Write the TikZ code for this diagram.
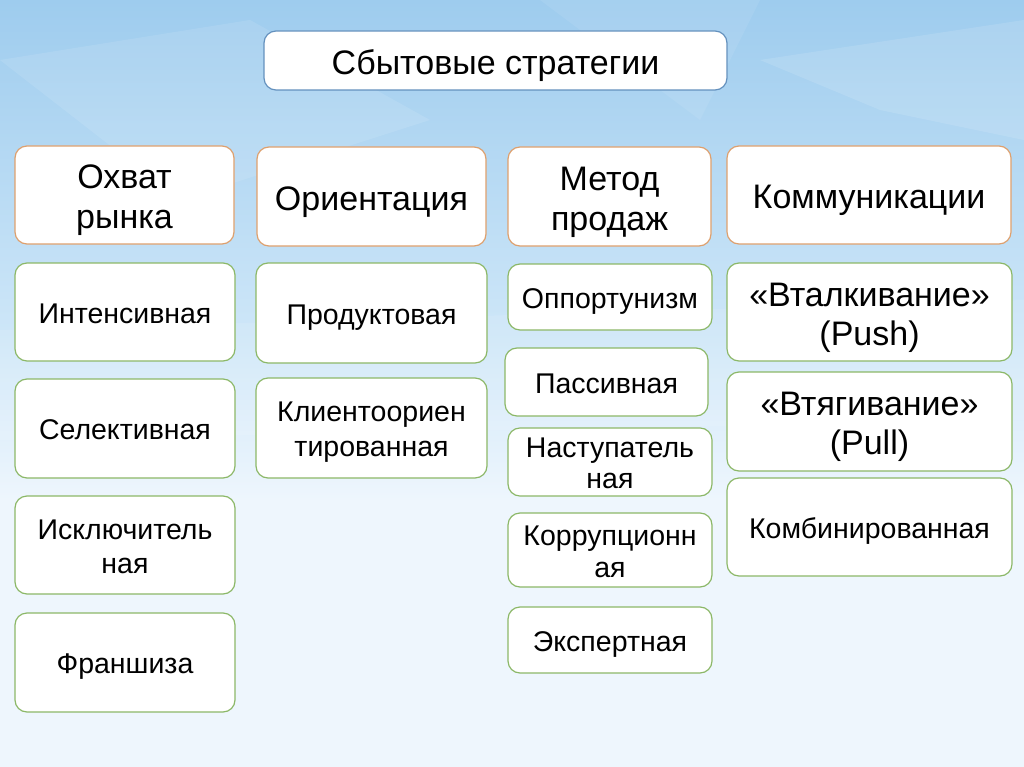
\documentclass[tikz,border=0pt]{standalone}
\usepackage{fontspec}
\setmainfont{Liberation Sans}
\definecolor{bgtop}{RGB}{158,204,238}
\definecolor{bgmid}{RGB}{205,230,248}
\definecolor{bgbot}{RGB}{238,246,253}
\definecolor{titleline}{RGB}{100,145,190}
\definecolor{headline}{RGB}{222,160,110}
\definecolor{itemline}{RGB}{140,184,104}
% struts: single line, first line, last line
\newcommand\sgl[1]{\rule[-0.25em]{0pt}{1.3em}#1}
\newcommand\dbl[2]{\rule{0pt}{1.05em}#1\\#2\rule[-0.25em]{0pt}{0.25em}}
\tikzset{
  box/.style={rectangle, rounded corners=12pt, fill=white, line width=1.2pt, align=center, inner sep=0pt, text=black},
  titlebox/.style={box, draw=titleline, font=\fontsize{34}{40}\selectfont},
  headbox/.style={box, draw=headline, font=\fontsize{34}{40}\selectfont},
  itembox/.style={box, draw=itemline, font=\fontsize{28.5}{34}\selectfont},
  bigitem/.style={box, draw=itemline, font=\fontsize{34}{39}\selectfont},
  sz/.style 2 args={minimum width=#1pt, minimum height=#2pt}
}
\begin{document}
\begin{tikzpicture}[x=1pt,y=-1pt]
\useasboundingbox (0,0) rectangle (1024,767);
% background
\shade[top color=bgtop, bottom color=bgmid] (0,0) rectangle (1024,330);
\shade[top color=bgmid, bottom color=bgbot] (0,330) rectangle (1024,500);
\fill[bgbot] (0,500) rectangle (1024,767);
\fill[white, opacity=0.10] (0,60) -- (250,20) -- (430,120) -- (180,200) -- cycle;
\fill[white, opacity=0.12] (760,60) -- (1024,20) -- (1024,140) -- (880,110) -- cycle;
\fill[white, opacity=0.08] (540,0) -- (760,0) -- (700,120) -- cycle;
\fill[white, opacity=0.10] (0,330) -- (1024,300) -- (1024,420) -- (0,440) -- cycle;
% title
\node[titlebox, sz={463}{59}] (title) at (495.5,60.5) {\sgl{Сбытовые стратегии}};
% headers
\node[headbox, sz={219}{98}] (h1) at (124.5,195) {\dbl{Охват}{рынка}};
\node[headbox, sz={229}{99}] (h2) at (371.5,196.5) {\sgl{Ориентация}};
\node[headbox, sz={203}{99}] (h3) at (609.5,196.5) {\dbl{Метод}{продаж}};
\node[headbox, sz={284}{98}] (h4) at (869,195) {\sgl{Коммуникации}};
% column 1
\node[itembox, sz={220}{98}] (a1) at (125,312) {\sgl{Интенсивная}};
\node[itembox, sz={220}{99}] (a2) at (125,428.5) {\sgl{Селективная}};
\node[itembox, sz={220}{98}] (a3) at (125,545) {\dbl{Исключитель}{ная}};
\node[itembox, sz={220}{99}] (a4) at (125,662.5) {\sgl{Франшиза}};
% column 2
\node[itembox, sz={231}{100}] (b1) at (371.5,313) {\sgl{Продуктовая}};
\node[itembox, sz={231}{100}, font=\fontsize{28.5}{35}\selectfont] (b2) at (371.5,428) {\dbl{Клиентоориен}{тированная}};
% column 3
\node[itembox, sz={204}{66}] (d1) at (610,297) {\sgl{Оппортунизм}};
\node[itembox, sz={203}{68}] (d2) at (606.5,382) {\sgl{Пассивная}};
\node[itembox, sz={204}{68}, font=\fontsize{28.5}{31}\selectfont] (d3) at (610,462) {\dbl{Наступатель}{ная}};
\node[itembox, sz={204}{74}, font=\fontsize{28.5}{32}\selectfont] (d4) at (610,550) {\dbl{Коррупционн}{ая}};
\node[itembox, sz={204}{66}] (d5) at (610,640) {\sgl{Экспертная}};
% column 4
\node[bigitem, sz={285}{98}] (e1) at (869.5,312) {\dbl{«Вталкивание»}{(Push)}};
\node[bigitem, sz={285}{99}] (e2) at (869.5,421.5) {\dbl{«Втягивание»}{(Pull)}};
\node[itembox, sz={285}{98}] (e3) at (869.5,527) {\sgl{Комбинированная}};
\end{tikzpicture}
\end{document}
